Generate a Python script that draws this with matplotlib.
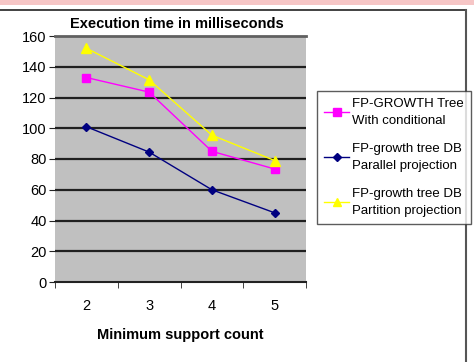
import matplotlib
matplotlib.use("Agg")
import matplotlib.pyplot as plt
from matplotlib.patches import Rectangle
from matplotlib.lines import Line2D

plt.rcParams['font.family'] = ['Liberation Sans Narrow', 'Liberation Sans', 'DejaVu Sans']

categories = ["2", "3", "4", "5"]
fp_growth_conditional = [133, 123.5, 85, 73.5]
db_parallel = [101, 84.5, 60, 45]
db_partition = [152, 131.5, 95.5, 79]
series_labels = ["FP-GROWTH Tree\nWith conditional",
                 "FP-growth tree DB\nParallel projection",
                 "FP-growth tree DB\nPartition projection"]
yticks = [0, 20, 40, 60, 80, 100, 120, 140, 160]

fig = plt.figure(figsize=(4.74, 3.62), dpi=100)
W, H = 474, 362

# page decoration: pink band at top and chart border
fig.patches.append(Rectangle((0, 1 - 5 / H), 1, 5 / H, transform=fig.transFigure,
                             facecolor='#f6c6c6', edgecolor='none'))
fig.add_artist(Line2D([0, 466 / W], [1 - 10 / H, 1 - 10 / H], transform=fig.transFigure,
                      color='#333333', lw=1.3))
fig.add_artist(Line2D([466 / W, 466 / W], [0, 1 - 10 / H], transform=fig.transFigure,
                      color='#555555', lw=1.5))

ax = fig.add_axes([55 / W, 1 - 282 / H, (306 - 55) / W, (282 - 36) / H])
ax.set_facecolor('#c0c0c0')
x = list(range(1, len(categories) + 1))

ax.plot(x, fp_growth_conditional, color='#ff00ff', marker='s', markersize=6,
        lw=1, label=series_labels[0])
ax.plot(x, db_parallel, color='#000080', marker='D', markersize=4.5,
        lw=1, label=series_labels[1])
ax.plot(x, db_partition, color='#ffff00', marker='^', markersize=6.5,
        lw=1, label=series_labels[2])

ax.set_ylim(0, 160)
ax.set_xlim(0.5, len(categories) + 0.5)
ax.set_yticks(yticks)
ax.set_yticklabels([str(v) for v in yticks], fontsize=10.5)
ax.set_xticks(x)
ax.set_xticklabels(categories, fontsize=10.5)
ax.set_xticks([i + 0.5 for i in range(0, len(categories) + 1)], minor=True)
ax.tick_params(axis='x', which='major', length=0, pad=12)
ax.tick_params(axis='x', which='minor', length=4, color='#222222')
ax.tick_params(axis='y', length=4, color='#222222', pad=2)
for v in yticks[1:-1]:
    ax.axhline(v, color='#202020', lw=1.6, zorder=1)
for s in ['left', 'right']:
    ax.spines[s].set_visible(False)
ax.spines['top'].set_color('#606060')
ax.spines['top'].set_linewidth(2)
ax.spines['bottom'].set_color('#222222')
ax.spines['bottom'].set_linewidth(1.5)

ax.set_title("Execution time in milliseconds", fontsize=10.5, fontweight='bold',
             loc='left', x=0.06, pad=6)
ax.set_xlabel("Minimum support count", fontsize=10.5, fontweight='bold', labelpad=11)

leg = fig.legend(loc='upper left', bbox_to_anchor=(317 / W, 1 - 91 / H),
                 fontsize=9.5, frameon=True, fancybox=False, edgecolor='#333333',
                 handlelength=1.9, handletextpad=0.2, borderpad=0.55,
                 labelspacing=1.25, borderaxespad=0, markerscale=0.85)
leg.get_frame().set_linewidth(1)
for t in leg.get_texts():
    t.set_linespacing(1.5)

fig.savefig("out.png", dpi=100)
